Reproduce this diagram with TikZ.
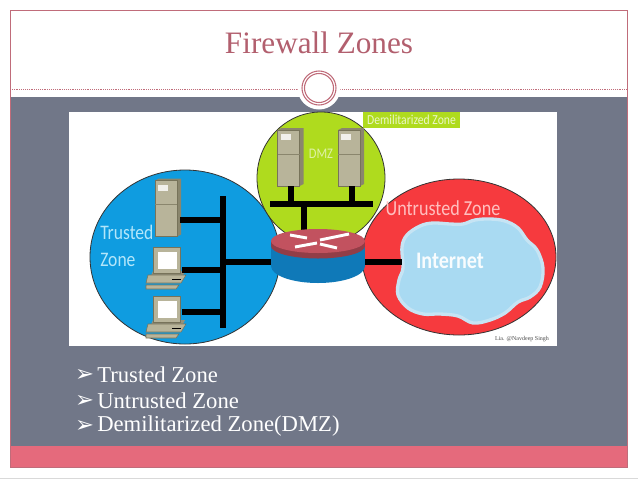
\documentclass[tikz,border=0pt]{standalone}
\usepackage{fontspec}
\setmainfont{Liberation Serif}
\newfontfamily\labelfont[FakeStretch=0.85]{Carlito}
\newfontfamily\bulletfont{DejaVu Sans}
\usetikzlibrary{positioning}
\definecolor{framered}{HTML}{C06C7A}
\definecolor{titlered}{HTML}{B25F6E}
\definecolor{slate}{HTML}{717788}
\definecolor{bandred}{HTML}{E56A7C}
\definecolor{trustblue}{HTML}{0F9CE0}
\definecolor{dmzgreen}{HTML}{AFDB1E}
\definecolor{untrustred}{HTML}{F63A3E}
\definecolor{cloudblue}{HTML}{A9DAF2}
\definecolor{cloudedge}{HTML}{C6E4F4}
\definecolor{boxtan}{HTML}{B8B49A}
\definecolor{boxedge}{HTML}{77735A}
\definecolor{routertop}{HTML}{C2525F}
\definecolor{routerblue}{HTML}{0F79B8}
\begin{document}
\begin{tikzpicture}[x=.75pt,y=-.75pt,
    zone/.style={draw=black!80,line width=.6pt},
    wire/.style={line width=4.4pt,black},
    zonetext/.style={font=\labelfont\fontsize{#1}{#1}\selectfont,inner sep=0pt},
    bullettext/.style={font=\fontsize{17}{17}\selectfont,text=white,anchor=west,inner sep=0pt},
    routerarrow/.style={white,line width=2.2pt},
    server/.pic={
        \fill[boxedge!70!boxtan] (-13,-27) -- (-9,-29) -- (13,-29) -- (13,27) -- (9,29) -- (-13,29) -- cycle;
        \draw[boxedge,fill=boxtan] (-13,-27) rectangle (9,29);
        \fill[white!80!boxtan] (-10,-23) rectangle (0,-17);
        \draw[boxedge!70!boxtan] (-13,-3) -- (9,-3);
    },
    pc/.pic={
        \fill[boxtan!80!black] (-14,10) -- (18,10) -- (12,22) -- (-19,22) -- cycle;
        \draw[boxedge,fill=boxtan] (-19,14) -- (19,14) -- (14,22) -- (-21,22) -- cycle;
        \draw[boxedge,fill=boxtan] (-21,24) -- (12,24) -- (9,28) -- (-21,28) -- cycle;
        \draw[boxedge,fill=boxtan] (-14,-14) rectangle (13,12);
        \fill[white] (-9,-9) rectangle (10,8);
        \draw[black] (5,18) -- (14,18);
    }]

    \useasboundingbox (0,0) rectangle (638,479);
    \fill[white] (0,0) rectangle (638,479);

    %slide frame and bands
    \fill[slate] (10,97) rectangle (627,446);
    \fill[bandred] (10,446) rectangle (627,467);
    \draw[framered] (10,10) rectangle (627,467);
    \draw[framered,densely dotted] (10,89) -- (627,89);
    \draw[black!15] (0,478) -- (638,478);

    %title ring
    \fill[white] (319,88) circle (21.5);
    \draw[framered,line width=.8pt] (319,88) circle (17);
    \draw[framered,line width=.8pt] (319,88) circle (14.5);
    \node[font=\fontsize{23.4}{23.4}\selectfont,text=titlered,inner sep=0pt] (title) at (319,43) {Firewall Zones};

    %picture on the slide
    \fill[white] (69,112) rectangle (557,346);
    \fill[dmzgreen] (363,112) rectangle (460,128);

    %zones
    \draw[zone,fill=trustblue] (185,257) ellipse (95 and 87);
    \draw[zone,fill=dmzgreen] (321,178) ellipse (64 and 66);
    \draw[zone,fill=untrustred] (459,257) ellipse (97 and 78);

    %cloud
    \draw[cloudedge,line width=2.5pt,fill=cloudblue] plot[smooth cycle,tension=.6] coordinates {
        (402,247) (407,235) (420,226) (433,223) (450,224) (463,224) (475,220) (490,219) (505,221) (518,228) (527,240)
        (537,250) (543,268) (540,287) (530,297) (518,302) (505,313) (490,320) (473,323) (458,316) (440,314) (423,314)
        (408,308) (398,295) (399,280) (403,268)};

    %devices
    \pic at (168,207.5) {server};
    \pic at (290.5,157) {server};
    \pic at (351,157) {server};
    \pic at (167,261) {pc};
    \pic at (167,310) {pc};

    \coordinate (server1) at (180,220);
    \coordinate (pc1) at (182,270);
    \coordinate (pc2) at (182,312);
    \coordinate (bus1top) at (223,196);
    \coordinate (bus1bot) at (223,328);
    \coordinate (bus1a) at (223,220);
    \coordinate (bus1b) at (223,270);
    \coordinate (bus1c) at (223,312);
    \coordinate (bus1d) at (223,262);
    \coordinate (router) at (318,262);
    \coordinate (routertopc) at (304,240);
    \coordinate (cloud) at (402,262);
    \coordinate (bus2l) at (270,204);
    \coordinate (bus2r) at (373,204);
    \coordinate (bus2a) at (291,204);
    \coordinate (bus2b) at (352,204);
    \coordinate (bus2c) at (304,204);
    \coordinate (dmz1) at (291,186);
    \coordinate (dmz2) at (352,186);

    %wires
    \draw[wire] (bus1top) -- (bus1bot);
    \draw[wire] (server1) -- (bus1a);
    \draw[wire] (pc1) -- (bus1b);
    \draw[wire] (pc2) -- (bus1c);
    \draw[wire] (bus1d) -- (router);
    \draw[wire] (router) -- (cloud);
    \draw[wire] (bus2l) -- (bus2r);
    \draw[wire] (dmz1) -- (bus2a);
    \draw[wire] (dmz2) -- (bus2b);
    \draw[wire] (bus2c) -- (routertopc);

    %router
    \fill[routerblue] (271,243) rectangle (365,266);
    \fill[routerblue] (318,266) ellipse (47 and 17);
    \fill[routertop!75!black] (271,241) rectangle (365,246);
    \fill[routertop!75!black] (318,246) ellipse (47 and 12.5);
    \fill[routertop] (318,241) ellipse (47 and 12);
    \draw[routerarrow] (290,235) -- (307,238);
    \draw[routerarrow] (295,247) -- (317,243);
    \draw[routerarrow] (320,240) -- (349,234);
    \draw[routerarrow] (320,244) -- (337,248);

    %labels
    \node[zonetext=10.3,text=white!75!dmzgreen] (dmzlabel) at (411.5,119.5) {Demilitarized Zone};
    \node[zonetext=11,text=white!60!dmzgreen] (dmz) at (321,154) {DMZ};
    \node[zonetext=15.5,text=cyan!30!white,anchor=west] (trusted) at (100,232) {Trusted};
    \node[zonetext=15.5,text=cyan!30!white,anchor=west] (zone) at (100,260) {Zone};
    \node[zonetext=16,text=red!25!white] (untrusted) at (443,208) {Untrusted Zone};
    \node[text=white!92!cloudblue,font=\labelfont\bfseries\fontsize{17.8}{17.8}\selectfont,inner sep=0pt] (internet) at (450,261) {Internet};
    \node[font=\fontsize{4.5}{4.5}\selectfont,text=black!70,inner sep=0pt] (credit) at (522,339) {Lia. @Navdeep Singh};

    %bullets
    \foreach \y/\t/\n in {375/Trusted Zone/first,401/Untrusted Zone/second,426/Demilitarized Zone(DMZ)/third}{
        \node[font=\bulletfont\fontsize{17}{17}\selectfont,text=white,inner sep=0pt] (mark\n) at (84.5,\y) {➢};
        \node[bullettext] (item\n) at (97,\y) {\t};
    }
\end{tikzpicture}
\end{document}
